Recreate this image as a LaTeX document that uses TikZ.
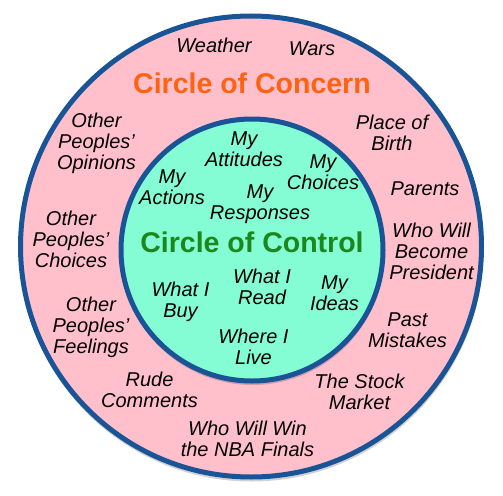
\documentclass[tikz,border=0pt]{standalone}
\usepackage{fontspec}
\setmainfont{Liberation Sans}
\definecolor{concernpink}{RGB}{255,192,204}
\definecolor{controlaqua}{RGB}{132,252,212}
\definecolor{ringblue}{RGB}{24,84,150}
\definecolor{concernorange}{RGB}{255,98,16}
\definecolor{controlgreen}{RGB}{28,136,28}
\begin{document}
\begin{tikzpicture}[x=1pt,y=-1pt,
  item/.style={font=\itshape\fontsize{20}{21}\selectfont, align=center, inner sep=0pt, text=black},
  heading/.style={font=\bfseries\fontsize{28.5}{30}\selectfont, inner sep=0pt},
  ring/.style={circle, draw=ringblue, line width=5pt, inner sep=0pt},
  shade/.style={fill=black, opacity=0.18}
]
\useasboundingbox (0,0) rectangle (503,495);
% soft shadows
\fill[shade] (251.5,249.5) circle (232pt);
\node[ring, fill=concernpink, minimum size=461pt] (outer) at (251,246.5) {};
\fill[shade] (252.5,253) circle (132pt);
\node[ring, fill=controlaqua, minimum size=262pt] (inner) at (252,250) {};

% circle of concern
\node[heading, text=concernorange] (concern) at (252,83.5) {Circle of Concern};
\node[item] (weather) at (214,45.5) {Weather};
\node[item] (wars) at (312,49) {Wars};
\node[item] (opinions) at (96.5,143.5) {Other\\Peoples’\\Opinions};
\node[item] (birth) at (392,132.5) {Place of\\Birth};
\node[item] (parents) at (425,189) {Parents};
\node[item] (ochoices) at (71,239) {Other\\Peoples’\\Choices};
\node[item] (president) at (431.5,251.5) {Who Will\\Become\\President};
\node[item] (feelings) at (91,327.5) {Other\\Peoples’\\Feelings};
\node[item] (mistakes) at (407.5,330.5) {Past\\Mistakes};
\node[item] (rude) at (149.5,390) {Rude\\Comments};
\node[item] (stock) at (359.5,391.5) {The Stock\\Market};
\node[item] (nba) at (247.5,439) {Who Will Win\\the NBA Finals};

% circle of control
\node[heading, text=controlgreen] (control) at (252,242.5) {Circle of Control};
\node[item] (attitudes) at (244,149.5) {My\\Attitudes};
\node[item] (mychoices) at (323,172.5) {My\\Choices};
\node[item] (actions) at (172,187) {My\\Actions};
\node[item] (responses) at (260,204.5) {My\\Responses};
\node[item] (read) at (262,287) {What I\\Read};
\node[item] (buy) at (180.5,302) {What I\\Buy};
\node[item] (ideas) at (334.5,293.5) {My\\Ideas};
\node[item] (live) at (253.5,346.5) {Where I\\Live};
\end{tikzpicture}
\end{document}
